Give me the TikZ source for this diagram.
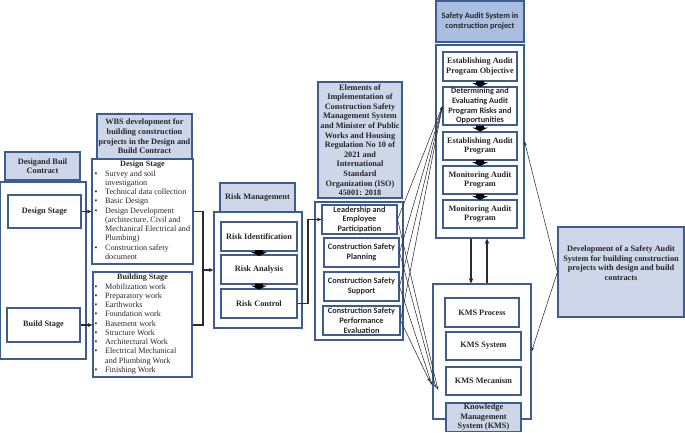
\documentclass[tikz,border=0pt]{standalone}
\usepackage{fontspec}
\setmainfont{Liberation Serif}
\newfontfamily\calfont{Carlito}
\usetikzlibrary{arrows.meta,calc}
\definecolor{bord}{HTML}{3E5C8E}
\definecolor{hfill}{HTML}{CDD7E9}
\definecolor{hdark}{HTML}{A9BEE0}
\definecolor{txt}{HTML}{262626}
\definecolor{ln}{HTML}{2B2B2B}
\newcommand\mybox[7]{\node[#6, minimum width={(#4-#2)*0.75pt}, minimum height={(#5-#3)*0.75pt}] (#1) at ({(#2+#4)/2},{(#3+#5)/2}) {#7};}
\newcommand\blk[2]{\fill[black] ($(#1.south)!0.5!(#2.north)$) +(-4,-3) -- +(4,-3) -- +(4,-1) -- +(8,-1) -- +(0,3) -- +(-8,-1) -- +(-4,-1) -- cycle;}
\begin{document}
\begin{tikzpicture}[x=0.75pt,y=-0.75pt,
  every node/.style={text=txt},
  box/.style={draw=bord, line width=0.8pt, inner sep=0pt, align=center, font=\fontsize{6.2}{7.2}\selectfont\bfseries},
  hdr/.style={box, fill=hfill},
  cbox/.style={box, font=\fontsize{6.2}{7.3}\selectfont\calfont\bfseries},
  cont/.style={draw=bord, line width=0.8pt, inner sep=0pt},
  lst/.style={draw=bord, line width=0.8pt, inner sep=0pt, align=center, font=\fontsize{6.1}{6.95}\selectfont},
  conn/.style={draw=ln, line width=1.1pt},
  arr/.style={conn, -{Stealth[length=3.5pt,width=3pt]}},
  thinarr/.style={draw=ln, line width=0.4pt, -{Stealth[length=3pt,width=2pt]}},
  bigarr/.style={draw=ln, line width=1.3pt, -{Stealth[length=4pt,width=3.5pt]}}]
\useasboundingbox (0,0) rectangle (685,432);

% left column
\mybox{hdrDB}{5}{152}{80}{180}{hdr}{Desigand Buil\\Contract}
\mybox{contL}{0.5}{182}{86}{359}{cont}{}
\mybox{dstage}{8}{195}{81}{228}{box}{Design Stage}
\mybox{bstage}{7}{308}{80}{342}{box}{Build Stage}

% WBS
\mybox{hdrWBS}{97}{114}{192}{159}{hdr}{WBS development for\\building construction\\projects in the Design and\\Build Contract}
\mybox{dlist}{92}{159}{193}{264}{lst}{\textbf{Design Stage}\\
\begin{tabular}{@{}p{8pt}@{}p{64pt}@{}}
\textbullet & Survey and soil\\
 & investigation\\
\textbullet & Technical data collection\\
\textbullet & Basic Design\\
\textbullet & Design Development\\
 & (architecture, Civil and\\
 & Mechanical Electrical and\\
 & Plumbing)\\
\textbullet & Construction safety\\
 & document
\end{tabular}}
\mybox{blist}{93}{272}{192}{377}{lst}{\textbf{Building Stage}\\
\begin{tabular}{@{}p{8pt}@{}p{64pt}@{}}
\textbullet & Mobilization work\\
\textbullet & Preparatory work\\
\textbullet & Earthworks\\
\textbullet & Foundation work\\
\textbullet & Basement work\\
\textbullet & Structure Work\\
\textbullet & Architectural Work\\
\textbullet & Electrical Mechanical\\
 & and Plumbing Work\\
\textbullet & Finishing Work
\end{tabular}}

% Risk management
\mybox{hdrRM}{220}{183}{295}{212}{hdr}{Risk Management}
\mybox{contRM}{214}{212}{302}{328}{cont}{}
\mybox{rid}{221}{222}{297}{251}{box}{Risk Identification}
\mybox{ran}{221}{255}{297}{284}{box}{Risk Analysis}
\mybox{rco}{221}{289}{297}{318}{box}{Risk Control}
\blk{rid}{ran}
\blk{ran}{rco}

% ISO
\mybox{hdrISO}{318}{82}{402}{198}{hdr}{Elements of\\Implementation of\\Construction Safety\\Management System\\and Minister of Public\\Works and Housing\\Regulation No 10 of\\2021 and\\International\\Standard\\Organization (ISO)\\45001: 2018}
\mybox{contISO}{315}{202}{403}{340}{cont}{}
\mybox{lead}{322}{205}{397}{234}{cbox}{Leadership and\\Employee\\Participation}
\mybox{plan}{324}{238}{399}{267}{cbox}{Construction Safety\\Planning}
\mybox{supp}{324}{272}{399}{301}{cbox}{Construction Safety\\Support}
\mybox{perf}{323}{306}{400}{335}{cbox}{Construction Safety\\Performance\\Evaluation}

% Safety audit
\mybox{hdrSA}{436}{1}{524}{42}{cbox, fill=hdark}{Safety Audit System in\\construction project}
\mybox{contSA}{436}{45}{524}{238}{cont}{}
\mybox{sa1}{443}{52}{517}{81}{box}{Establishing Audit\\Program Objective}
\mybox{sa2}{443}{87}{517}{125}{cbox}{Determining and\\Evaluating Audit\\Program Risks and\\Opportunities}
\mybox{sa3}{443}{132}{517}{160}{box}{Establishing Audit\\Program}
\mybox{sa4}{443}{166}{517}{194}{box}{Monitoring Audit\\Program}
\mybox{sa5}{443}{200}{517}{228}{box}{Monitoring Audit\\Program}
\blk{sa1}{sa2}
\blk{sa2}{sa3}
\blk{sa3}{sa4}
\blk{sa4}{sa5}

% KMS
\mybox{contKMS}{433}{284}{531}{419}{cont}{}
\mybox{k1}{445}{298}{519}{327}{box}{KMS Process}
\mybox{k2}{446}{332}{521}{360}{box}{KMS System}
\mybox{k3}{446}{367}{521}{395}{box}{KMS Mecanism}
\mybox{hdrKMS}{446}{403}{521}{431.5}{hdr}{Knowledge\\Management\\System (KMS)}

% development
\mybox{dev}{558}{227}{684}{317}{hdr}{Development of a Safety Audit\\System for building construction\\projects with design and build\\contracts\\[6pt]}

% connectors left
\coordinate (j1) at (203,270);
\coordinate (j2) at (308,260);
\draw[arr] (dstage.east) -- (dstage.east -| dlist.west);
\draw[arr] (bstage.east) -- (bstage.east -| blist.west);
\draw[conn] (dstage.east -| dlist.east) -| (j1);
\draw[conn] (bstage.east -| blist.east) -| (j1);
\draw[arr] (j1) -- (j1 -| contRM.west);
\draw[arr] (rco.east) -| (j2) |- (lead.west);

% crossing lines
\coordinate (kd1) at (438,390);
\coordinate (kd2) at (436,388);
\coordinate (kd3) at (432,385);
\coordinate (kd4) at (430,382);
\foreach \s in {lead,plan,supp,perf}{\draw[thinarr] (\s.east) -- (sa2.west);}
\draw[thinarr] (lead.east) -- (kd1);
\draw[thinarr] (plan.east) -- (kd2);
\draw[thinarr] (supp.east) -- (kd3);
\draw[thinarr] (perf.east) -- (kd4);

% SA <-> KMS
\draw[bigarr] ([xshift=-6.75pt]contSA.south) -- ([xshift=-6.75pt]contSA.south |- contKMS.north);
\draw[bigarr] ([xshift=5.25pt]contSA.south |- contKMS.north) -- ([xshift=5.25pt]contSA.south);

% development lines
\draw[thinarr] (dev.west) -- (contSA.east);
\draw[thinarr] (dev.west) -- (contKMS.east);
\end{tikzpicture}
\end{document}
